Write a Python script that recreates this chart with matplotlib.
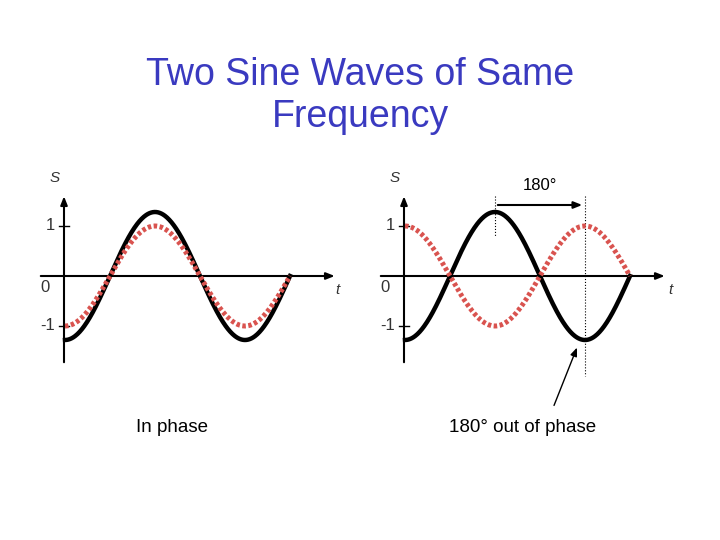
import numpy as np
import matplotlib
matplotlib.use("Agg")
import matplotlib.pyplot as plt

plt.rcParams['font.family'] = ['Liberation Sans', 'DejaVu Sans']

title = "Two Sine Waves of Same\nFrequency"
panel_labels = ["In phase", "180° out of phase"]
black_amp = 1.28
red_amp = 1.0
red_phase_deg = [0, 180]   # relative phase of red wave in each panel
t_end_deg = 450
tick_vals = [1, 0, -1]
tick_labels = ["1", "0", "-1"]

fig = plt.figure(figsize=(7.2, 5.4), dpi=100)
W, H = 720, 540
fig.text(0.5, 1 - 96 / H, title, ha="center", va="center", fontsize=27,
         color="#3a3ac0", linespacing=1.2)

RED = "#d9534f"
boxes = [(30, 345, 65), (370, 690, 405)]
for i, (x0, x1, ox) in enumerate(boxes):
    ax = fig.add_axes([x0 / W, 1 - 380 / H, (x1 - x0) / W, 230 / H])
    ax.set_xlim((x0 - ox) * 2, (x1 - ox) * 2)
    ax.set_ylim((276 - 380) / 50, (276 - 150) / 50)
    ax.axis("off")
    t = np.linspace(0, t_end_deg, 400)
    ax.plot(t, -black_amp * np.cos(np.radians(t)), color="black", lw=3.2, zorder=3)
    ax.plot(t, -red_amp * np.cos(np.radians(t + red_phase_deg[i])), color=RED,
            lw=3.6, ls=(0, (0.7, 0.5)), zorder=4)
    ax.annotate("", xy=(-2, 1.65), xytext=(-2, -1.78),
                arrowprops=dict(arrowstyle="-|>,head_length=0.5,head_width=0.2", color="black", lw=1.5))
    ax.annotate("", xy=(545 if i == 0 else 525, 0), xytext=(-54, 0),
                arrowprops=dict(arrowstyle="-|>,head_length=0.5,head_width=0.2", color="black", lw=1.5))
    for v, lab in zip(tick_vals, tick_labels):
        if v != 0:
            ax.plot([-12, 8], [v, v], color="black", lw=1)
        ax.text(-20 if v != 0 else -30, v - (0.22 if v == 0 else 0), lab, ha="right", va="center",
                fontsize=12, color="#333333")
    ax.text(-20, 1.96, "S", fontsize=11, ha="center", va="center", style="italic", color="#333333")
    ax.text(545 if i == 0 else 530, -0.28, "t", fontsize=11, ha="center", va="center",
            style="italic", color="#333333")
    ax.text(215 if i == 0 else 236, -3.02, panel_labels[i], fontsize=13.5, ha="center", va="center")
    if i == 1:
        ax.plot([180, 180], [1.6, 0.8], color="black", lw=0.8, ls=":")
        ax.plot([360, 360], [1.6, -2.0], color="black", lw=0.8, ls=":")
        ax.annotate("", xy=(360, 1.42), xytext=(180, 1.42),
                    arrowprops=dict(arrowstyle="-|>,head_length=0.5,head_width=0.2", color="black", lw=1.5))
        ax.text(270, 1.8, "180°", fontsize=12, ha="center", va="center")
        ax.annotate("", xy=(346, -1.38), xytext=(296, -2.64),
                    arrowprops=dict(arrowstyle="-|>,head_length=0.5,head_width=0.2", color="black", lw=1))

fig.savefig("out.png", dpi=100)
